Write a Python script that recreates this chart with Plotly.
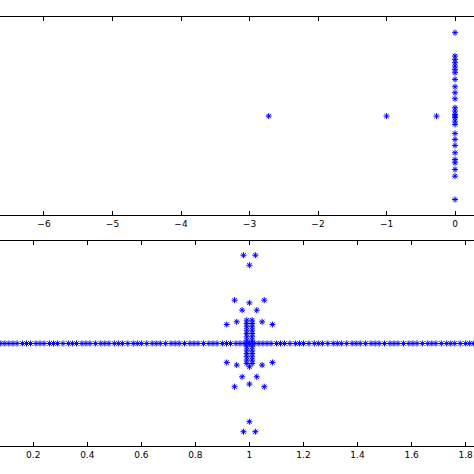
import plotly.graph_objects as go
from plotly.subplots import make_subplots

# Top panel: eigenvalues (real part vs imaginary part)
top_x_axis0 = [0.0]*27
top_y_axis0 = [2.5, 1.8, 1.7, 1.6, 1.5, 1.4, 1.3, 1.1, 0.88, 0.7, 0.52, 0.25, 0.15, 0.05, 0.0,
               -0.05, -0.15, -0.25, -0.52, -0.7, -0.88, -1.1, -1.3, -1.4, -1.6, -1.8, -2.5]
top_x_other = [-2.72, -1.0, -0.27]
top_y_other = [0.0, 0.0, 0.0]

# Bottom panel
bot_line_x = [0.08, 0.095, 0.11, 0.125, 0.14, 0.16, 0.175, 0.19, 0.21, 0.225, 0.24, 0.26, 0.275,
              0.29, 0.31, 0.33, 0.345, 0.36, 0.38, 0.395, 0.41, 0.43, 0.45, 0.465, 0.48, 0.5, 0.515,
              0.53, 0.55, 0.57, 0.585, 0.6, 0.62, 0.64, 0.655, 0.67, 0.69, 0.71, 0.725, 0.74, 0.76,
              0.78, 0.795, 0.81, 0.83, 0.85, 0.865, 0.88, 0.9, 0.915, 0.93, 0.95, 0.965, 0.98, 0.99,
              1.0, 1.01, 1.02, 1.035, 1.05, 1.065, 1.08, 1.1, 1.115, 1.13, 1.15, 1.17, 1.185, 1.2,
              1.22, 1.24, 1.255, 1.27, 1.29, 1.31, 1.325, 1.34, 1.36, 1.38, 1.395, 1.41, 1.43, 1.45,
              1.465, 1.48, 1.5, 1.52, 1.535, 1.55, 1.57, 1.59, 1.605, 1.62, 1.64, 1.66, 1.675, 1.69,
              1.71, 1.73, 1.745, 1.76, 1.78, 1.8, 1.815, 1.83]
bot_line_y = [0.0]*len(bot_line_x)
bot_cluster_x = [0.978, 1.022, 1.0, 0.945, 1.055, 1.0, 0.973, 1.027, 0.953, 1.047, 0.916, 1.085,
                 0.99, 1.01, 0.99, 1.01, 0.99, 1.01, 0.99, 1.01, 0.99, 1.01, 0.99, 1.01, 0.99, 1.01,
                 0.99, 1.01, 0.99, 1.01, 0.99, 1.01, 0.99, 1.01, 0.99, 1.01, 0.99, 1.01,
                 1.0, 0.945, 1.055, 1.0, 0.973, 1.027, 0.953, 1.047, 0.916, 1.085, 0.978, 1.022, 1.0]
bot_cluster_y = [2.65, 2.65, 2.35, 1.3, 1.3, 1.22, 1.0, 1.0, 0.65, 0.65, 0.57, 0.57,
                 0.7, 0.7, 0.6, 0.6, 0.5, 0.5, 0.4, 0.4, 0.3, 0.3, 0.2, 0.2, 0.1, 0.1,
                 -0.1, -0.1, -0.2, -0.2, -0.3, -0.3, -0.4, -0.4, -0.5, -0.5, -0.6, -0.6,
                 -0.7, -1.3, -1.3, -1.22, -1.0, -1.0, -0.65, -0.65, -0.57, -0.57, -2.65, -2.65, -2.35]

fig = make_subplots(rows=2, cols=1)
mk = dict(symbol="asterisk-open", size=5, color="#0000ff", line=dict(color="#0000ff", width=1))
for x, y, r in [(top_x_axis0, top_y_axis0, 1), (top_x_other, top_y_other, 1),
                (bot_line_x, bot_line_y, 2), (bot_cluster_x, bot_cluster_y, 2)]:
    fig.add_trace(go.Scatter(x=x, y=y, mode="markers", marker=mk, showlegend=False,
                             cliponaxis=False), row=r, col=1)

ax = dict(showline=True, linecolor="black", linewidth=1, mirror="ticks", ticks="inside",
          ticklen=4, tickcolor="black", showgrid=False, zeroline=False, automargin=False,
          tickfont=dict(family="DejaVu Sans", size=9, color="black"))
fig.update_xaxes(**ax)
fig.update_xaxes(range=[-6.642, 0.277], tickvals=[-6, -5, -4, -3, -2, -1, 0],
                 ticktext=["\u22126", "\u22125", "\u22124", "\u22123", "\u22122", "\u22121", "0"], row=1, col=1)
fig.update_xaxes(range=[0.077, 1.831], tickvals=[0.2, 0.4, 0.6, 0.8, 1, 1.2, 1.4, 1.6, 1.8], row=2, col=1)
fig.update_yaxes(showgrid=False, zeroline=False, showticklabels=False, showline=False, ticks="",
                 automargin=False)
fig.update_yaxes(range=[-2.97, 2.97], domain=[0.538, 1.0], row=1, col=1)
fig.update_yaxes(range=[-3.08, 3.08], domain=[0.0, 0.478], row=2, col=1)
fig.update_layout(width=474, height=474, margin=dict(l=0, r=0, t=17, b=28, autoexpand=False),
                  plot_bgcolor="white", paper_bgcolor="white")
fig.write_html("out.html", config={"displayModeBar": False},
               post_script="document.body.style.margin='0';")
